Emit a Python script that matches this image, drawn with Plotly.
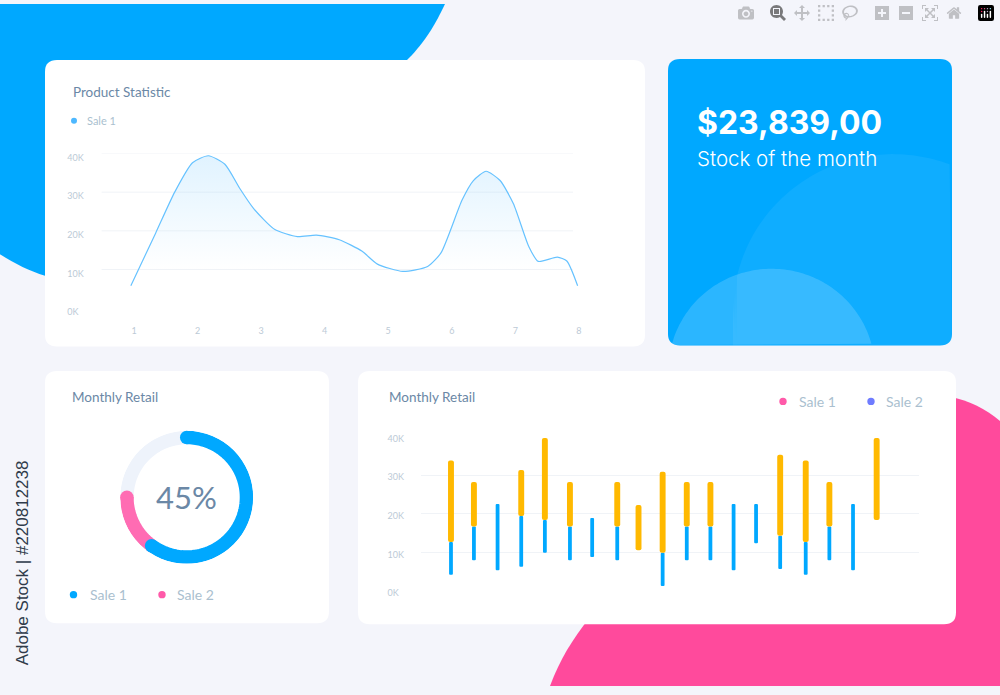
import numpy as np
import plotly.graph_objects as go

# line chart, x in chart units, y in thousands
line_x = [0.95, 1.34, 1.64, 1.92, 2.17, 2.43, 2.67, 2.88, 3.21, 3.57, 3.87, 4.23, 4.59, 4.83,
          5.23, 5.62, 5.83, 6.16, 6.34, 6.54, 6.76, 6.97, 7.21, 7.36, 7.66, 7.81, 7.98]
line_y = [5.8, 19.4, 30.0, 37.6, 39.4, 37.2, 30.8, 25.8, 20.4, 18.5, 18.9, 17.7, 14.7, 11.4,
          9.5, 10.8, 14.3, 27.9, 33.0, 35.4, 33.0, 27.0, 16.0, 12.1, 13.2, 12.2, 5.8]
line_xticks = [1, 2, 3, 4, 5, 6, 7, 8]
y_ticks = [0, 10, 20, 30, 40]
y_labels = ['0K\u2007', '10K', '20K', '30K', '40K']

# range bars
bar_x = [1, 1.97, 2.97, 3.97, 4.97, 6.03, 6.97, 8.03, 8.93, 9.95, 10.97, 11.97, 12.95, 13.9,
         14.92, 16, 17, 18, 19]
orange_top = [33.8, 28.2, None, 31.3, 39.6, 28.2, None, 28.2, 22.3, 30.9, 28.2, 28.2, None, None,
              35.3, 33.8, 28.2, None, 39.6]
orange_bottom = [12.7, 16.7, None, 19.4, 18.4, 16.7, None, 16.7, 10.6, 9.9, 16.7, 16.7, None, None,
                 14.3, 12.7, 16.7, None, 18.4]
blue_top = [12.7, 16.7, 22.5, 19.4, 18.4, 16.7, 18.9, 16.7, None, 9.9, 16.7, 16.7, 22.5, 22.5,
            14.3, 12.7, 16.7, 22.5, None]
blue_bottom = [4.2, 8.0, 5.4, 6.3, 9.9, 8.0, 8.8, 8.0, None, 1.3, 8.0, 8.0, 5.4, 12.4,
               5.7, 4.2, 8.0, 5.4, None]

# donut shares, sale 1 / sale 2 / rest
donut_values = [60, 15, 25]

BLUE = '#00a8ff'
PINK = '#ff4a9c'
ORANGE = '#ffb900'
TITLE = '#6b88a6'
MUTED = '#aabfcf'
TICK = '#bccad6'
GRID = '#f0f3f7'
FONT = 'Lato'


def px(x):
    return x / 1000


def py(y):
    return 1 - y / 695


def path(points, closed=True):
    s = ''
    for i, (x, y) in enumerate(points):
        s += ('M' if i == 0 else 'L') + f'{px(x):.4f},{py(y):.4f} '
    return s + ('Z' if closed else '')


def round_rect(x0, y0, x1, y1, r):
    return (f'M{px(x0 + r)},{py(y0)} L{px(x1 - r)},{py(y0)} Q{px(x1)},{py(y0)} {px(x1)},{py(y0 + r)} '
            f'L{px(x1)},{py(y1 - r)} Q{px(x1)},{py(y1)} {px(x1 - r)},{py(y1)} '
            f'L{px(x0 + r)},{py(y1)} Q{px(x0)},{py(y1)} {px(x0)},{py(y1 - r)} '
            f'L{px(x0)},{py(y0 + r)} Q{px(x0)},{py(y0)} {px(x0 + r)},{py(y0)} Z')


def blob(d, color):
    return dict(type='path', path=d, xref='paper', yref='paper', fillcolor=color,
                line_width=0, layer='below')


def pts(cmds):
    # cmds is a list of svg commands with pixel coordinates
    out = ''
    for c, *nums in cmds:
        pairs = [f'{px(nums[i])},{py(nums[i + 1])}' for i in range(0, len(nums), 2)]
        out += c + ' '.join(pairs) + ' '
    return out + 'Z'


def circle_in_card(cx, cy, r, left, right, bottom, corner=None):
    a = np.linspace(0, 2 * np.pi, 240)
    xs = cx + r * np.cos(a)
    ys = cy + r * np.sin(a)
    keep = [(x, y) for x, y in zip(xs, ys) if left <= x <= right and y <= bottom]
    keep.sort(key=lambda p: np.arctan2(p[1] - cy, p[0] - cx))
    return keep


def text(x, y, s, size, color, family=FONT, anchor='left', weight=None, angle=0):
    f = dict(size=size, color=color, family=family)
    if weight:
        f['weight'] = weight
    return dict(x=px(x), y=py(y), xref='paper', yref='paper', text=s, showarrow=False,
                xanchor=anchor, yanchor='middle', font=f, textangle=angle)


def dot(x, y, r, color):
    return dict(type='circle', xref='paper', yref='paper', x0=px(x - r), x1=px(x + r),
                y0=py(y + r), y1=py(y - r), fillcolor=color, line_width=0, layer='below')


shapes = [
    blob(pts([('M', 0, 0), ('L', 445, 0), ('C', 432, 28, 420, 45, 402, 62), ('L', 45, 277),
              ('C', 30, 272, 15, 265, 0, 255)]), BLUE),
    blob(pts([('M', 550, 695), ('C', 560, 668, 572, 648, 590, 625), ('L', 950, 400),
              ('C', 970, 405, 985, 412, 1000, 425), ('L', 1000, 695)]), PINK),
    blob(round_rect(45, 57, 645, 349, 12), 'white'),
    blob(round_rect(45, 374, 329, 631, 12), 'white'),
    blob(round_rect(358, 374, 956, 632, 12), 'white'),
    blob(round_rect(668, 56, 952, 348, 12), BLUE),
]

# the two pale circles inside the blue card
big = circle_in_card(893, 313, 160, 668, 952, 348)
big = sorted(big, key=lambda p: p[0])
big_path = path(big, closed=False) + f'L{px(952)},{py(338)} Q{px(952)},{py(348)} {px(942)},{py(348)} L{px(big[0][0])},{py(348)} Z'
shapes.append(blob(big_path, 'rgba(255,255,255,0.06)'))
small = sorted(circle_in_card(771.7, 373, 103.2, 668, 952, 348), key=lambda p: p[0])
shapes.append(blob(path(small), 'rgba(255,255,255,0.17)'))

# line chart gridlines stop short of the curve end
for v in y_ticks[1:]:
    shapes.append(dict(type='line', xref='paper', yref='y', x0=px(101.6), x1=px(573), y0=v, y1=v,
                       line=dict(color=GRID, width=1), layer='below'))

shapes += [dot(74, 119, 3, '#4db8ff'), dot(73.5, 602, 3.7, BLUE), dot(162, 602, 3.7, '#ff5aa9'),
           dot(783, 405, 3.7, '#ff5aa9'), dot(871, 405, 3.7, '#6f7cff')]

annotations = [
    text(70.5, 90, 'Product Statistic', 13.5, TITLE),
    text(85, 119, 'Sale 1', 11, MUTED),
    text(70, 401, 'Monthly Retail', 13.5, TITLE),
    text(387, 401, 'Monthly Retail', 13.5, TITLE),
    text(88, 602, 'Sale 1', 14, MUTED),
    text(175, 602, 'Sale 2', 14, MUTED),
    text(797, 405, 'Sale 1', 14, MUTED),
    text(884, 405, 'Sale 2', 14, MUTED),
    text(186.5, 502, '45%', 31, TITLE, anchor='center'),
    text(695, 121, '$23,839,00', 32, 'white', family='Inter', weight=700),
    text(695, 157, 'Stock of the month', 20.5, 'white', family='Inter', weight=300),
    text(22, 570, 'Adobe Stock | #220812238', 17, '#2f3b4a', family='Liberation Sans', anchor='center', angle=-90),
]

fig = go.Figure()

fig.add_trace(go.Scatter(
    x=line_x, y=line_y, mode='lines', xaxis='x', yaxis='y', cliponaxis=False,
    line=dict(color='#66c2ff', width=1.2, shape='spline', smoothing=0.6),
    fill='tozeroy',
    fillgradient=dict(type='vertical', colorscale=[[0, 'rgba(102,194,255,0)'], [0.25, 'rgba(102,194,255,0)'],
                                                   [1, 'rgba(102,194,255,0.2)']]),
))

for top, bottom, color, width, radius in [(blue_top, blue_bottom, BLUE, 0.16, 2),
                                          (orange_top, orange_bottom, ORANGE, 0.25, 3)]:
    xs = [x for x, t in zip(bar_x, top) if t is not None]
    lows = [b for b in bottom if b is not None]
    highs = [t for t in top if t is not None]
    fig.add_trace(go.Bar(x=xs, y=[h - l for h, l in zip(highs, lows)], base=lows, width=width,
                         marker=dict(color=color, cornerradius=radius, line_width=0),
                         xaxis='x2', yaxis='y2'))

# donut as thick arcs so the ends can be round
sale1, sale2, rest = donut_values
total = sum(donut_values)
end1 = sale1 / total * 360
end2 = (sale1 + sale2) / total * 360
ring = [('#eef3fb', 0, 360), ('#ff6cb3', end1, end2), (BLUE, 0, end1)]
for color, a0, a1 in ring:
    theta = np.linspace(a0, a1, 120)
    fig.add_trace(go.Scatterpolar(r=[0.9] * len(theta), theta=theta, mode='lines',
                                  line=dict(color=color, width=13.5)))
    if a1 - a0 < 360:
        fig.add_trace(go.Scatterpolar(r=[0.9, 0.9], theta=[a0, a1], mode='markers',
                                      marker=dict(color=color, size=13.5, line_width=0)))

fig.update_layout(
    width=1000, height=695, margin=dict(l=0, r=0, t=0, b=0),
    paper_bgcolor='#f4f5fb', plot_bgcolor='rgba(0,0,0,0)',
    showlegend=False, barmode='overlay', hovermode=False,
    font=dict(family=FONT),
    shapes=shapes, annotations=annotations,
    xaxis=dict(domain=[px(101.6), px(585)], range=[0.49, 8.096], tickmode='array', tickvals=line_xticks,
               showgrid=False, zeroline=False, showline=False, ticks='', ticklabelstandoff=16,
               tickfont=dict(size=9, color=TICK)),
    yaxis=dict(domain=[py(310), py(152.3)], range=[0, 40], tickmode='array', tickvals=y_ticks,
               ticktext=y_labels, showgrid=False, zeroline=False, showline=False, ticks='',
               ticklabelstandoff=17, ticklabelshift=4, tickfont=dict(size=9, color=TICK)),
    xaxis2=dict(domain=[px(421), px(919)], range=[-0.268, 20.79], visible=False, anchor='y2'),
    yaxis2=dict(domain=[py(598.3), py(440.7)], range=[0, 40], tickmode='array', tickvals=y_ticks,
                ticktext=y_labels, showgrid=True, gridcolor=GRID, gridwidth=1, zeroline=False,
                showline=False, ticks='', ticklabelstandoff=16, ticklabelshift=2,
                tickfont=dict(size=9, color=TICK), anchor='x2'),
    polar=dict(domain=dict(x=[px(119), px(254.4)], y=[py(570.4), py(435)]),
               bgcolor='rgba(0,0,0,0)',
               radialaxis=dict(visible=False, range=[0, 1]),
               angularaxis=dict(visible=False, direction='clockwise', rotation=90)),
)

fig.write_html('out.html', post_script="document.body.style.margin='0';")
